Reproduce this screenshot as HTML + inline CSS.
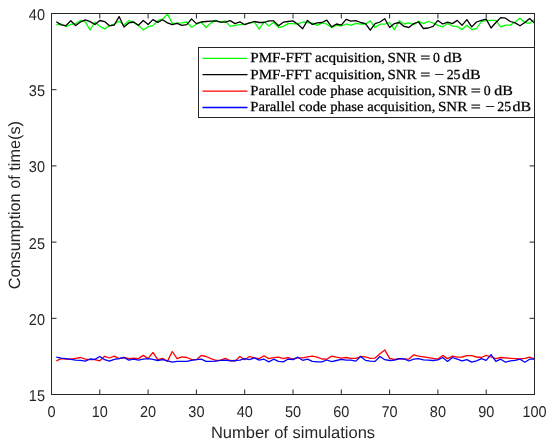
<!DOCTYPE html>
<html><head><meta charset="utf-8"><style>
html,body{margin:0;padding:0;background:#fff;}
body{width:550px;height:446px;overflow:hidden;}
svg{display:block;text-rendering:geometricPrecision;}
.tk{font-family:"Liberation Sans",Arial,sans-serif;font-size:15.6px;fill:#262626;}
.lb{font-family:"Liberation Sans",Arial,sans-serif;font-size:16.5px;fill:#262626;}
.lg{font-family:"Liberation Serif","Times New Roman",serif;font-size:13.8px;fill:#000;stroke:#000;stroke-width:0.25px;}
</style></head><body>
<svg width="550" height="446" viewBox="0 0 550 446">
<rect width="550" height="446" fill="#fff"/>
<g fill="none" stroke-width="1.3" stroke-linejoin="round">
<polyline stroke="#00ff00" points="56.33,24.90 61.16,24.00 65.99,26.70 70.82,24.50 75.65,23.50 80.48,20.50 85.31,21.80 90.14,30.00 94.97,22.00 99.80,26.20 104.63,28.90 109.46,25.60 114.29,24.00 119.12,21.30 123.95,25.10 128.78,20.70 133.61,22.40 138.44,25.60 143.27,30.00 148.10,26.70 152.93,25.60 157.76,20.70 162.59,19.20 167.42,14.10 172.25,23.30 177.08,23.10 181.91,22.90 186.74,22.00 191.57,27.20 196.40,24.20 201.23,22.20 206.06,27.50 210.89,23.10 215.72,20.40 220.55,22.20 225.38,20.90 230.21,26.40 235.04,25.30 239.87,24.70 244.70,24.20 249.53,23.10 254.36,22.00 259.19,29.10 264.02,21.50 268.85,26.10 273.68,22.30 278.51,27.50 283.34,26.40 288.17,23.60 293.00,23.60 297.83,24.20 302.66,22.00 307.49,22.50 312.32,23.10 317.15,25.30 321.98,22.90 326.81,24.20 331.64,27.50 336.47,25.30 341.30,25.80 346.13,24.00 350.96,25.30 355.79,23.30 360.62,24.20 365.45,24.00 370.28,20.90 375.11,27.50 379.94,24.20 384.77,24.20 389.60,22.50 394.43,29.60 399.26,20.70 404.09,24.00 408.92,22.90 413.75,24.70 418.58,21.10 423.41,23.60 428.24,21.50 433.07,22.90 437.90,25.30 442.73,26.90 447.56,23.30 452.39,26.10 457.22,26.40 462.05,29.60 466.88,25.30 471.71,29.60 476.54,28.50 481.37,21.50 486.20,20.60 491.03,20.40 495.86,20.40 500.69,26.90 505.52,25.10 510.35,25.10 515.18,22.00 520.01,18.20 524.84,22.50 529.67,23.30 534.50,19.30"/>
<polyline stroke="#000000" points="56.33,21.80 61.16,24.90 65.99,25.60 70.82,20.70 75.65,25.60 80.48,22.00 85.31,19.90 90.14,21.60 94.97,24.50 99.80,20.50 104.63,21.60 109.46,25.80 114.29,25.00 119.12,16.60 123.95,27.00 128.78,22.90 133.61,22.00 138.44,25.30 143.27,20.50 148.10,24.50 152.93,19.60 157.76,22.40 162.59,19.80 167.42,22.90 172.25,24.70 177.08,23.30 181.91,25.30 186.74,24.70 191.57,18.90 196.40,23.60 201.23,22.00 206.06,21.50 210.89,21.20 215.72,20.90 220.55,22.20 225.38,22.20 230.21,20.60 235.04,23.60 239.87,21.80 244.70,24.70 249.53,22.90 254.36,21.50 259.19,22.50 264.02,22.50 268.85,20.90 273.68,20.90 278.51,25.80 283.34,22.20 288.17,21.50 293.00,20.90 297.83,24.20 302.66,28.80 307.49,20.40 312.32,24.40 317.15,22.90 321.98,22.50 326.81,20.20 331.64,26.90 336.47,24.00 341.30,25.10 346.13,19.30 350.96,21.10 355.79,20.70 360.62,22.50 365.45,23.60 370.28,30.20 375.11,23.60 379.94,22.00 384.77,18.70 389.60,27.50 394.43,23.60 399.26,22.50 404.09,26.40 408.92,27.50 413.75,23.60 418.58,22.00 423.41,28.50 428.24,28.00 433.07,26.40 437.90,20.40 442.73,24.00 447.56,22.20 452.39,23.60 457.22,20.40 462.05,25.30 466.88,19.60 471.71,26.90 476.54,22.00 481.37,20.40 486.20,19.10 491.03,28.00 495.86,22.50 500.69,17.60 505.52,18.20 510.35,21.50 515.18,22.90 520.01,25.80 524.84,22.50 529.67,18.50 534.50,23.10"/>
<polyline stroke="#ff0000" points="56.33,360.80 61.16,358.60 65.99,359.00 70.82,359.20 75.65,358.30 80.48,357.50 85.31,359.20 90.14,359.70 94.97,359.70 99.80,360.80 104.63,356.30 109.46,358.00 114.29,356.10 119.12,358.60 123.95,357.50 128.78,358.60 133.61,358.10 138.44,358.60 143.27,355.40 148.10,358.60 152.93,352.40 157.76,359.70 162.59,358.30 167.42,361.40 172.25,351.50 177.08,358.60 181.91,356.80 186.74,357.50 191.57,359.40 196.40,359.70 201.23,355.40 206.06,356.50 210.89,358.60 215.72,360.30 220.55,360.10 225.38,358.30 230.21,360.50 235.04,361.10 239.87,356.50 244.70,359.70 249.53,356.50 254.36,357.90 259.19,358.60 264.02,355.70 268.85,358.60 273.68,357.70 278.51,357.20 283.34,358.60 288.17,357.50 293.00,359.00 297.83,357.90 302.66,357.90 307.49,356.80 312.32,356.10 317.15,357.20 321.98,359.00 326.81,359.20 331.64,356.10 336.47,357.20 341.30,358.10 346.13,357.50 350.96,358.30 355.79,358.30 360.62,356.50 365.45,356.80 370.28,358.30 375.11,358.10 379.94,353.70 384.77,349.90 389.60,358.40 394.43,359.50 399.26,358.60 404.09,359.10 408.92,359.10 413.75,354.80 418.58,356.20 423.41,356.90 428.24,357.70 433.07,358.40 437.90,359.10 442.73,355.40 447.56,358.60 452.39,356.10 457.22,357.20 462.05,357.00 466.88,355.70 471.71,355.70 476.54,357.00 481.37,357.50 486.20,355.40 491.03,357.00 495.86,358.60 500.69,357.50 505.52,357.90 510.35,358.30 515.18,358.60 520.01,359.00 524.84,358.30 529.67,357.20 534.50,359.00"/>
<polyline stroke="#0000ff" points="56.33,357.20 61.16,358.10 65.99,358.60 70.82,359.40 75.65,360.10 80.48,360.30 85.31,361.10 90.14,359.00 94.97,359.40 99.80,356.50 104.63,359.70 109.46,361.20 114.29,359.40 119.12,358.60 123.95,357.50 128.78,360.10 133.61,359.20 138.44,360.10 143.27,359.20 148.10,358.60 152.93,359.40 157.76,360.50 162.59,359.70 167.42,360.80 172.25,362.20 177.08,361.40 181.91,361.40 186.74,361.40 191.57,360.30 196.40,359.70 201.23,359.20 206.06,361.40 210.89,361.40 215.72,361.10 220.55,360.30 225.38,360.10 230.21,360.80 235.04,360.50 239.87,360.10 244.70,358.60 249.53,359.70 254.36,357.90 259.19,360.10 264.02,359.20 268.85,361.90 273.68,359.20 278.51,361.40 283.34,361.90 288.17,359.00 293.00,359.70 297.83,357.20 302.66,360.30 307.49,359.20 312.32,361.40 317.15,361.90 321.98,361.90 326.81,360.00 331.64,361.60 336.47,360.50 341.30,359.40 346.13,360.10 350.96,360.10 355.79,361.10 360.62,356.50 365.45,360.30 370.28,361.10 375.11,361.40 379.94,356.50 384.77,359.70 389.60,360.50 394.43,360.20 399.26,358.60 404.09,358.80 408.92,361.00 413.75,359.10 418.58,358.60 423.41,359.90 428.24,360.20 433.07,360.50 437.90,359.90 442.73,357.50 447.56,361.40 452.39,357.50 457.22,359.20 462.05,360.80 466.88,359.70 471.71,362.20 476.54,360.80 481.37,358.60 486.20,360.30 491.03,354.60 495.86,361.40 500.69,359.20 505.52,362.20 510.35,360.80 515.18,360.30 520.01,359.20 524.84,362.20 529.67,359.20 534.50,359.00"/>
</g>
<g stroke="#262626" stroke-width="1" fill="none">
<line x1="51.50" y1="394.5" x2="51.50" y2="389.5"/>
<line x1="51.50" y1="13.5" x2="51.50" y2="18.5"/>
<line x1="99.80" y1="394.5" x2="99.80" y2="389.5"/>
<line x1="99.80" y1="13.5" x2="99.80" y2="18.5"/>
<line x1="148.10" y1="394.5" x2="148.10" y2="389.5"/>
<line x1="148.10" y1="13.5" x2="148.10" y2="18.5"/>
<line x1="196.40" y1="394.5" x2="196.40" y2="389.5"/>
<line x1="196.40" y1="13.5" x2="196.40" y2="18.5"/>
<line x1="244.70" y1="394.5" x2="244.70" y2="389.5"/>
<line x1="244.70" y1="13.5" x2="244.70" y2="18.5"/>
<line x1="293.00" y1="394.5" x2="293.00" y2="389.5"/>
<line x1="293.00" y1="13.5" x2="293.00" y2="18.5"/>
<line x1="341.30" y1="394.5" x2="341.30" y2="389.5"/>
<line x1="341.30" y1="13.5" x2="341.30" y2="18.5"/>
<line x1="389.60" y1="394.5" x2="389.60" y2="389.5"/>
<line x1="389.60" y1="13.5" x2="389.60" y2="18.5"/>
<line x1="437.90" y1="394.5" x2="437.90" y2="389.5"/>
<line x1="437.90" y1="13.5" x2="437.90" y2="18.5"/>
<line x1="486.20" y1="394.5" x2="486.20" y2="389.5"/>
<line x1="486.20" y1="13.5" x2="486.20" y2="18.5"/>
<line x1="534.50" y1="394.5" x2="534.50" y2="389.5"/>
<line x1="534.50" y1="13.5" x2="534.50" y2="18.5"/>
<line x1="51.5" y1="394.50" x2="56.5" y2="394.50"/>
<line x1="534.5" y1="394.50" x2="529.5" y2="394.50"/>
<line x1="51.5" y1="318.30" x2="56.5" y2="318.30"/>
<line x1="534.5" y1="318.30" x2="529.5" y2="318.30"/>
<line x1="51.5" y1="242.10" x2="56.5" y2="242.10"/>
<line x1="534.5" y1="242.10" x2="529.5" y2="242.10"/>
<line x1="51.5" y1="165.90" x2="56.5" y2="165.90"/>
<line x1="534.5" y1="165.90" x2="529.5" y2="165.90"/>
<line x1="51.5" y1="89.70" x2="56.5" y2="89.70"/>
<line x1="534.5" y1="89.70" x2="529.5" y2="89.70"/>
<line x1="51.5" y1="13.50" x2="56.5" y2="13.50"/>
<line x1="534.5" y1="13.50" x2="529.5" y2="13.50"/>
<rect x="51.5" y="13.5" width="483.0" height="381.0"/>
</g>
<g class="tk">
<text transform="translate(51.50,416.5) scale(0.93,1)" text-anchor="middle">0</text>
<text transform="translate(99.80,416.5) scale(0.93,1)" text-anchor="middle">10</text>
<text transform="translate(148.10,416.5) scale(0.93,1)" text-anchor="middle">20</text>
<text transform="translate(196.40,416.5) scale(0.93,1)" text-anchor="middle">30</text>
<text transform="translate(244.70,416.5) scale(0.93,1)" text-anchor="middle">40</text>
<text transform="translate(293.00,416.5) scale(0.93,1)" text-anchor="middle">50</text>
<text transform="translate(341.30,416.5) scale(0.93,1)" text-anchor="middle">60</text>
<text transform="translate(389.60,416.5) scale(0.93,1)" text-anchor="middle">70</text>
<text transform="translate(437.90,416.5) scale(0.93,1)" text-anchor="middle">80</text>
<text transform="translate(486.20,416.5) scale(0.93,1)" text-anchor="middle">90</text>
<text transform="translate(534.50,416.5) scale(0.93,1)" text-anchor="middle">100</text>
<text transform="translate(45.0,400.90) scale(0.93,1)" text-anchor="end">15</text>
<text transform="translate(45.0,324.70) scale(0.93,1)" text-anchor="end">20</text>
<text transform="translate(45.0,248.50) scale(0.93,1)" text-anchor="end">25</text>
<text transform="translate(45.0,172.30) scale(0.93,1)" text-anchor="end">30</text>
<text transform="translate(45.0,96.10) scale(0.93,1)" text-anchor="end">35</text>
<text transform="translate(45.0,19.90) scale(0.93,1)" text-anchor="end">40</text>
</g>
<text class="lb" x="293" y="438.4" text-anchor="middle">Number of simulations</text>
<text class="lb" transform="translate(20.3,205.1) rotate(-90)" style="font-size:16.3px" text-anchor="middle">Consumption of time(s)</text>
<rect x="198.5" y="47.5" width="336.0" height="70.0" fill="#fff" stroke="#262626" stroke-width="1"/>
<g class="lg">
<line x1="202.5" y1="58.30" x2="247.5" y2="58.30" stroke="#00ff00" stroke-width="1.3"/>
<text y="62.10"><tspan x="250.3" textLength="134.8" lengthAdjust="spacingAndGlyphs">PMF-FFT acquisition,</tspan> <tspan x="387.40" textLength="29.2" lengthAdjust="spacingAndGlyphs">SNR</tspan> <tspan x="420.20" textLength="10.1" lengthAdjust="spacingAndGlyphs">=</tspan> <tspan x="433.10">0</tspan> <tspan x="443.60" textLength="18.6" lengthAdjust="spacingAndGlyphs">dB</tspan></text>
<line x1="202.5" y1="74.70" x2="247.5" y2="74.70" stroke="#000000" stroke-width="1.3"/>
<text y="78.50"><tspan x="250.3" textLength="134.8" lengthAdjust="spacingAndGlyphs">PMF-FFT acquisition,</tspan> <tspan x="387.40" textLength="29.2" lengthAdjust="spacingAndGlyphs">SNR</tspan> <tspan x="420.20" textLength="10.1" lengthAdjust="spacingAndGlyphs">=</tspan> <tspan x="434.60" textLength="9.6" lengthAdjust="spacingAndGlyphs">−</tspan><tspan x="446.70">25</tspan> <tspan x="462.00" textLength="18.6" lengthAdjust="spacingAndGlyphs">dB</tspan></text>
<line x1="202.5" y1="91.10" x2="247.5" y2="91.10" stroke="#ff0000" stroke-width="1.3"/>
<text y="94.90"><tspan x="250.3" textLength="185.0" lengthAdjust="spacingAndGlyphs">Parallel code phase acquisition,</tspan> <tspan x="438.00" textLength="29.2" lengthAdjust="spacingAndGlyphs">SNR</tspan> <tspan x="470.80" textLength="10.1" lengthAdjust="spacingAndGlyphs">=</tspan> <tspan x="483.70">0</tspan> <tspan x="494.20" textLength="18.6" lengthAdjust="spacingAndGlyphs">dB</tspan></text>
<line x1="202.5" y1="107.50" x2="247.5" y2="107.50" stroke="#0000ff" stroke-width="1.3"/>
<text y="111.30"><tspan x="250.3" textLength="185.0" lengthAdjust="spacingAndGlyphs">Parallel code phase acquisition,</tspan> <tspan x="438.00" textLength="29.2" lengthAdjust="spacingAndGlyphs">SNR</tspan> <tspan x="470.80" textLength="10.1" lengthAdjust="spacingAndGlyphs">=</tspan> <tspan x="485.20" textLength="9.6" lengthAdjust="spacingAndGlyphs">−</tspan><tspan x="497.30">25</tspan> <tspan x="512.60" textLength="18.6" lengthAdjust="spacingAndGlyphs">dB</tspan></text>
</g>
</svg>
</body></html>
